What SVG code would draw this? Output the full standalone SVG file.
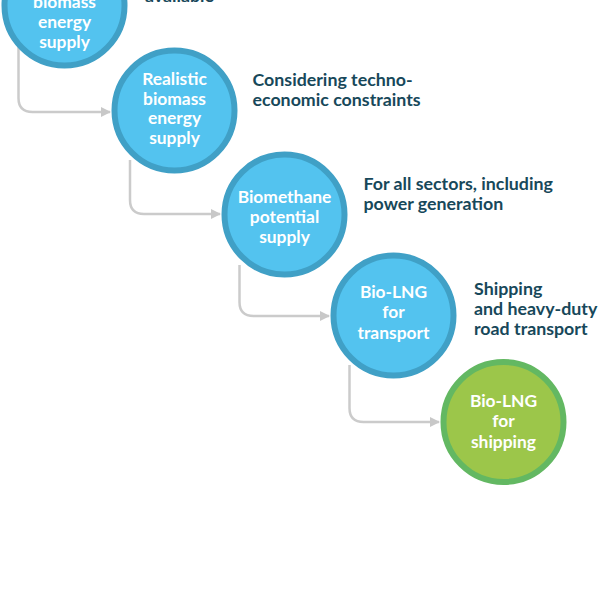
<svg xmlns="http://www.w3.org/2000/svg" width="600" height="600" viewBox="0 0 600 600">
  <defs>
    <marker id="arr" viewBox="0 0 10 10" refX="9" refY="5" markerWidth="10" markerHeight="10" markerUnits="userSpaceOnUse" orient="auto">
      <path d="M0,0 L10,5 L0,10 Z" fill="#c8c8c8"/>
    </marker>
    <style>
      .conn { fill: none; stroke: #cbcbcb; stroke-width: 2.5; }
      .blue { fill: #53c3ef; stroke: #40a0c6; stroke-width: 6; }
      .green { fill: #9cc64a; stroke: #63b862; stroke-width: 6; }
      .nt { font-family: Lato, "Noto Sans", sans-serif; font-weight: 700; font-size: 17.4px; fill: #ffffff; text-anchor: middle; }
      .dt { font-family: Lato, "Noto Sans", sans-serif; font-weight: 700; font-size: 17.8px; fill: #17485a; }
    </style>
  </defs>
  <rect width="600" height="600" fill="#ffffff"/>

  <g id="connectors">
    <path class="conn" d="M18.5,45 V98 Q18.5,112 32.5,112 H110" marker-end="url(#arr)"/>
    <path class="conn" d="M130,160 V200 Q130,214 144,214 H220" marker-end="url(#arr)"/>
    <path class="conn" d="M239.5,265 V302 Q239.5,316 253.5,316 H329" marker-end="url(#arr)"/>
    <path class="conn" d="M349.5,365 V408 Q349.5,422 363.5,422 H439" marker-end="url(#arr)"/>
  </g>

  <g id="node1">
    <circle class="blue" cx="64.5" cy="5.5" r="60"/>
    <text class="nt" x="64.5" y="8">biomass</text>
    <text class="nt" x="64.5" y="28">energy</text>
    <text class="nt" x="64.5" y="48">supply</text>
  </g>
  <g id="desc1">
    <text class="dt" x="145" y="2">available</text>
  </g>

  <g id="node2">
    <circle class="blue" cx="174.5" cy="110.5" r="60"/>
    <text class="nt" x="174.5" y="85">Realistic</text>
    <text class="nt" x="174.5" y="104.5">biomass</text>
    <text class="nt" x="174.5" y="124">energy</text>
    <text class="nt" x="174.5" y="144">supply</text>
  </g>
  <g id="desc2">
    <text class="dt" x="252.5" y="86">Considering techno-</text>
    <text class="dt" x="252.5" y="106">economic constraints</text>
  </g>

  <g id="node3">
    <circle class="blue" cx="284.5" cy="214.5" r="60"/>
    <text class="nt" x="284.5" y="203">Biomethane</text>
    <text class="nt" x="284.5" y="223">potential</text>
    <text class="nt" x="284.5" y="243">supply</text>
  </g>
  <g id="desc3">
    <text class="dt" x="363.5" y="190">For all sectors, including</text>
    <text class="dt" x="363.5" y="210">power generation</text>
  </g>

  <g id="node4">
    <circle class="blue" cx="393.5" cy="315.5" r="60"/>
    <text class="nt" x="393.5" y="298">Bio-LNG</text>
    <text class="nt" x="393.5" y="318">for</text>
    <text class="nt" x="393.5" y="339">transport</text>
  </g>
  <g id="desc4">
    <text class="dt" x="474" y="295">Shipping</text>
    <text class="dt" x="474" y="315">and heavy-duty</text>
    <text class="dt" x="474" y="335">road transport</text>
  </g>

  <g id="node5">
    <circle class="green" cx="503.5" cy="422" r="60"/>
    <text class="nt" x="503.5" y="407">Bio-LNG</text>
    <text class="nt" x="503.5" y="427">for</text>
    <text class="nt" x="503.5" y="448">shipping</text>
  </g>
</svg>
